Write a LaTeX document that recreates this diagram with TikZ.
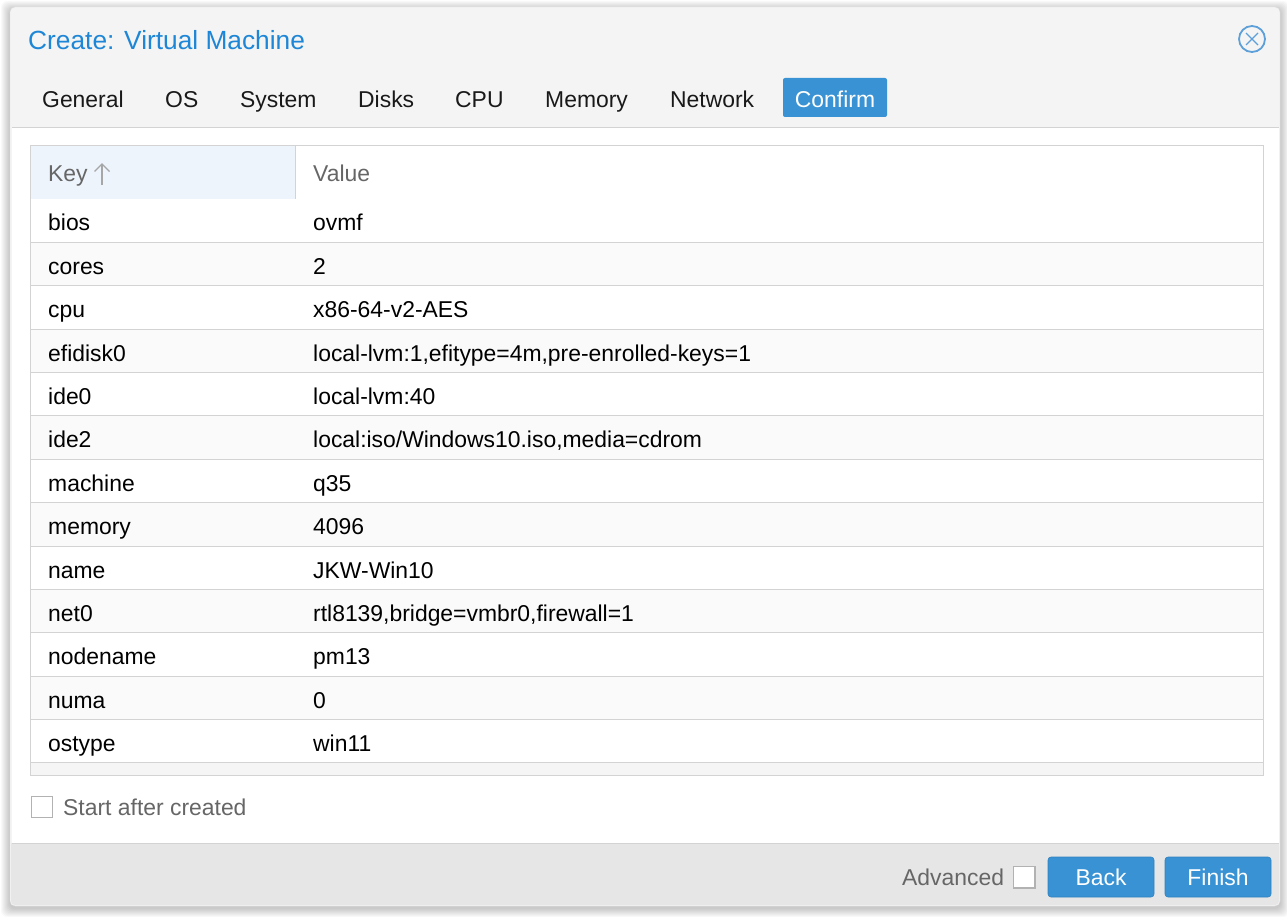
\documentclass[tikz,border=0pt]{standalone}
\usepackage{fontspec}
\setmainfont{Liberation Sans}
\definecolor{titleblue}{HTML}{1E86D6}
\definecolor{btnblue}{HTML}{3892D4}
\definecolor{hdrbg}{HTML}{F4F4F4}
\definecolor{footbg}{HTML}{E6E6E6}
\definecolor{keyhdr}{HTML}{EDF4FC}
\definecolor{gridc}{HTML}{D3D3D3}
\definecolor{altrow}{HTML}{FAFAFA}
\definecolor{greytext}{HTML}{666666}
\definecolor{iconblue}{HTML}{5C9FD9}
\tikzset{
  txt/.style={anchor=base west, inner sep=0pt, font=\fontsize{22.9}{27}\selectfont, text=black},
  hdrtxt/.style={txt, text=greytext},
  tabtxt/.style={txt, text=black!90},
  btn/.style={fill=btnblue, draw=btnblue!90!black, rounded corners=3pt, line width=0.6pt},
  btntxt/.style={anchor=base, inner sep=0pt, font=\fontsize{22.9}{27}\selectfont, text=white},
  chk/.style={draw=black!30, line width=1.6pt, fill=white},
  gridline/.style={draw=gridc, line width=1pt},
}
\begin{document}
\begin{tikzpicture}[x=1pt,y=-1pt]
\useasboundingbox (0,0) rectangle (1287,917);
\fill[white] (0,0) rectangle (1287,917);
% shadow
\foreach \i in {1,...,9}{
  \fill[black, opacity=0.022, rounded corners=6pt] (10-\i,7-\i+3) rectangle (1280+\i,906+\i+2);
}
% window
\fill[hdrbg, rounded corners=5pt] (10,7) rectangle (1280,906);
\draw[black!12, rounded corners=5pt] (10,7) rectangle (1280,906);
% body
\fill[white] (12,128) rectangle (1279,843);
\draw[gridline] (12,128) -- (1279,128);
% footer
\fill[footbg, rounded corners=4pt] (11,843) rectangle (1279,905);
\fill[footbg] (11,843) rectangle (1279,860);
\draw[gridline] (12,843) -- (1279,843);
% title
\node[txt, text=titleblue, font=\fontsize{26.3}{30}\selectfont] (title) at (28,49.5) {Create: Virtual Machine};
% close icon
\node[circle, draw=iconblue, line width=1.8pt, minimum size=26pt, inner sep=0pt] (close) at (1252,39) {};
\draw[iconblue, line width=1.3pt] ([shift={(-6,-6)}]close.center) -- ([shift={(6,6)}]close.center);
\draw[iconblue, line width=1.3pt] ([shift={(-6,6)}]close.center) -- ([shift={(6,-6)}]close.center);
% tabs
\node[tabtxt] (tgen) at (42,107.5) {General};
\node[tabtxt] (tos) at (165,107.5) {OS};
\node[tabtxt] (tsys) at (240,107.5) {System};
\node[tabtxt] (tdisk) at (358,107.5) {Disks};
\node[tabtxt] (tcpu) at (455,107.5) {CPU};
\node[tabtxt] (tmem) at (545,107.5) {Memory};
\node[tabtxt] (tnet) at (670,107.5) {Network};
\fill[btnblue, rounded corners=2pt] (783,78) rectangle (887,117);
\node[btntxt] (tconf) at (835,107.5) {Confirm};
% table frame
\fill[white] (30,146) rectangle (1263,775);
\fill[keyhdr] (30,146) rectangle (295,199);
\draw[gridline] (295,146) -- (295,199);
\foreach \i in {1,3,5,7,9,11}{
  \fill[altrow] (30,{199+43.38*\i}) rectangle (1263,{199+43.38*(\i+1)});
}
\fill[altrow!98!black] (30,763) rectangle (1263,775);
\foreach \i in {1,...,13}{
  \draw[gridline] (30,{199+43.38*\i}) -- (1263,{199+43.38*\i});
}
\draw[gridline] (30,146) rectangle (1263,775);
% header
\node[hdrtxt] (hkey) at (48,182) {Key};
\draw[black!35, line width=1.3pt] (102,185) -- (102,164);
\draw[black!35, line width=1.3pt] (94.5,171.5) -- (102,164) -- (109.5,171.5);
\node[hdrtxt] (hval) at (313,182) {Value};
% rows
\node[txt] (k1) at (48,231) {bios};        \node[txt] (v1) at (313,231) {ovmf};
\node[txt] (k2) at (48,274.4) {cores};     \node[txt] (v2) at (313,274.4) {2};
\node[txt] (k3) at (48,317.8) {cpu};       \node[txt] (v3) at (313,317.8) {x86-64-v2-AES};
\node[txt] (k4) at (48,361.1) {efidisk0};  \node[txt] (v4) at (313,361.1) {local-lvm:1,efitype=4m,pre-enrolled-keys=1};
\node[txt] (k5) at (48,404.5) {ide0};      \node[txt] (v5) at (313,404.5) {local-lvm:40};
\node[txt] (k6) at (48,447.9) {ide2};      \node[txt] (v6) at (313,447.9) {local:iso/Windows10.iso,media=cdrom};
\node[txt] (k7) at (48,491.3) {machine};   \node[txt] (v7) at (313,491.3) {q35};
\node[txt] (k8) at (48,534.7) {memory};    \node[txt] (v8) at (313,534.7) {4096};
\node[txt] (k9) at (48,578) {name};        \node[txt] (v9) at (313,578) {JKW-Win10};
\node[txt] (k10) at (48,621.4) {net0};     \node[txt] (v10) at (313,621.4) {rtl8139,bridge=vmbr0,firewall=1};
\node[txt] (k11) at (48,664.8) {nodename}; \node[txt] (v11) at (313,664.8) {pm13};
\node[txt] (k12) at (48,708.2) {numa};     \node[txt] (v12) at (313,708.2) {0};
\node[txt] (k13) at (48,751.6) {ostype};   \node[txt] (v13) at (313,751.6) {win11};
% start after created
\draw[chk] (31.5,796.5) rectangle (52.5,817.5);
\node[hdrtxt] (start) at (63,815) {Start after created};
% footer
\node[hdrtxt] (adv) at (902,885) {Advanced};
\draw[chk] (1013.5,866.5) rectangle (1035,888);
\draw[btn] (1048,857) rectangle (1154,897);
\node[btntxt] (back) at (1101,885) {Back};
\draw[btn] (1165,857) rectangle (1271,897);
\node[btntxt] (finish) at (1218,885) {Finish};
\end{tikzpicture}
\end{document}
